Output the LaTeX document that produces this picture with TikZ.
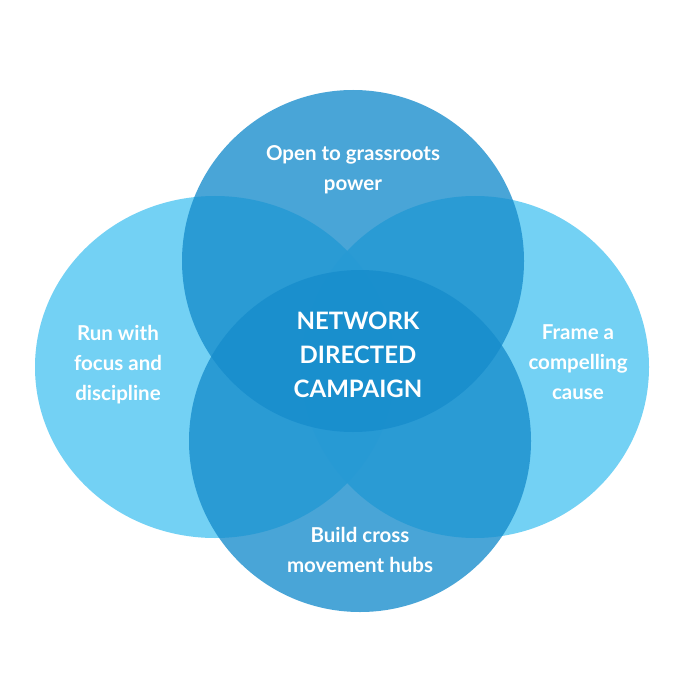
\documentclass[tikz,border=0pt]{standalone}
\usepackage{fontspec}
\setmainfont{Lato}
\begin{document}
\begin{tikzpicture}[x=1pt,y=-1pt,
 lt/.style={fill={rgb,255:red,100;green,204;blue,243},fill opacity=0.9},
 dk/.style={fill={rgb,255:red,22;green,140;blue,204},fill opacity=0.78},
 lab/.style={text=white,font=\bfseries\fontsize{20.5}{30}\selectfont,align=center}]
\useasboundingbox (0,0) rectangle (700,700);
\fill[white] (0,0) rectangle (700,700);
\path[lt] (215,367) ellipse [x radius=180,y radius=171];
\path[lt] (475,367) ellipse [x radius=174,y radius=171];
\path[dk] (353,261) ellipse [x radius=171,y radius=171];
\path[dk] (360,441) ellipse [x radius=171,y radius=171];
\node[lab] (t) at (353,170) {Open to grassroots\\power};
\node[lab] (l) at (118,365) {Run with\\focus and\\discipline};
\node[lab] (r) at (578,362) {Frame a\\compelling\\cause};
\node[lab] (b) at (360,550) {Build cross\\movement hubs};
\node[lab,font=\bfseries\fontsize{24}{34}\selectfont] (c) at (358,355) {NETWORK\\DIRECTED\\CAMPAIGN};
\end{tikzpicture}
\end{document}
